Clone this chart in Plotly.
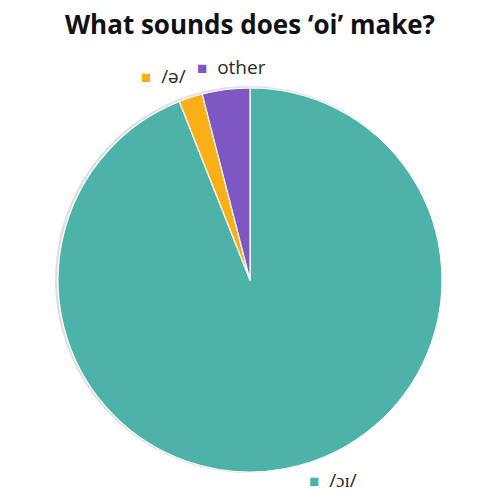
import plotly.graph_objects as go

# Data
labels = ["/ɔɪ/", "/ə/", "other"]
values = [94, 2, 4]
colors = ["#4DB3A9", "#FAAF17", "#7E57C2"]

# label positions (paper coords) for the outside labels
label_pos = {
    "/ɔɪ/": (0.666, 0.040),
    "/ə/": (0.327, 0.848),
    "other": (0.462, 0.866),
}

fig = go.Figure()

# soft shadow behind the pie
fig.add_trace(go.Pie(
    labels=labels,
    values=values,
    sort=False,
    direction="clockwise",
    marker=dict(colors=["rgba(0,0,0,0.12)"] * len(values), line=dict(width=0)),
    textinfo="none",
    hoverinfo="skip",
    showlegend=False,
    domain=dict(x=[0.110, 0.884], y=[0.054, 0.828]),
))

fig.add_trace(go.Pie(
    labels=labels,
    values=values,
    sort=False,
    direction="clockwise",
    marker=dict(colors=colors, line=dict(color="white", width=1.2)),
    textinfo="none",
    showlegend=False,
    domain=dict(x=[0.116, 0.884], y=[0.056, 0.824]),
))

for lab, col in zip(labels, colors):
    x, y = label_pos[lab]
    fig.add_annotation(
        x=x, y=y, xref="paper", yref="paper",
        xanchor="center", yanchor="middle",
        text=f"<span style='color:{col};font-size:17px'>■</span>  {lab}",
        showarrow=False,
        font=dict(family="Open Sans", size=19, color="#2a2a2a"),
    )

fig.update_layout(
    title=dict(
        text="<b>What sounds does ‘oi’ make?</b>",
        x=0.5, xanchor="center",
        y=0.95, yanchor="middle",
        font=dict(family="Open Sans", size=26, color="#111111"),
    ),
    width=500,
    height=500,
    margin=dict(l=0, r=0, t=0, b=0),
    paper_bgcolor="white",
    plot_bgcolor="white",
)

fig.write_html("out.html", config={"displayModeBar": False},
               post_script="document.body.style.margin='0';")
